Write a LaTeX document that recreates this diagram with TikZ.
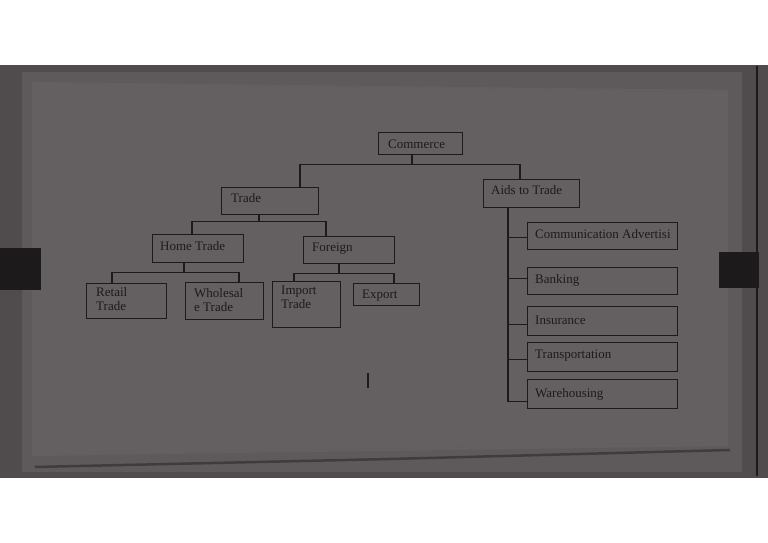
\documentclass[tikz,border=0pt]{standalone}
\usepackage{fontspec}
\setmainfont{Liberation Serif}
\usetikzlibrary{calc}
\definecolor{paper}{HTML}{646062}
\definecolor{outer}{HTML}{504C4E}
\definecolor{band}{HTML}{5E5A5C}
\definecolor{ink}{HTML}{1C1A1B}
\tikzset{
  box/.style={draw=ink, line width=1.3pt, rectangle, inner sep=0pt, anchor=north west},
  lbl/.style={text=ink, inner sep=0pt, anchor=base west, font=\fontsize{13}{14}\selectfont, align=left},
  conn/.style={draw=ink, line width=1.3pt},
}
\begin{document}
\begin{tikzpicture}[x=1pt,y=-1pt]
\useasboundingbox (0,0) rectangle (768,543);
\fill[white] (0,0) rectangle (768,543);
% photo
\fill[outer] (0,65) rectangle (768,478);
\fill[band] (22,72) rectangle (742,472);
\fill[paper] (32,82) -- (728,90) -- (728,446) -- (32,456) -- cycle;
\draw[ink!70, line width=0.8pt] (32,82) -- (728,92) -- (728,442) -- (32,456) -- cycle;
\draw[ink!85, line width=2.5pt] (35,467) -- (390,459) -- (730,450);
\draw[ink, line width=1.6pt] (757,66) -- (757,476);
\fill[ink] (0,248) rectangle (41,290);
\fill[ink] (719,252) rectangle (759,288);
\draw[ink, line width=1.4pt] (368,373) -- (368,388);

% boxes
\node[box, minimum width=84pt, minimum height=22pt] (commerce) at (378,132) {};
\node[box, minimum width=97pt, minimum height=27pt] (trade) at (221,187) {};
\node[box, minimum width=96pt, minimum height=28pt] (aids) at (483,179) {};
\node[box, minimum width=91pt, minimum height=28pt] (home) at (152,234) {};
\node[box, minimum width=91pt, minimum height=27pt] (foreign) at (303,236) {};
\node[box, minimum width=80pt, minimum height=35pt] (retail) at (86,283) {};
\node[box, minimum width=78pt, minimum height=37pt] (whole) at (185,282) {};
\node[box, minimum width=68pt, minimum height=46pt] (import) at (272,281) {};
\node[box, minimum width=66pt, minimum height=22pt] (export) at (353,283) {};
\node[box, minimum width=150pt, minimum height=27pt] (comm) at (527,222) {};
\node[box, minimum width=150pt, minimum height=27pt] (bank) at (527,267) {};
\node[box, minimum width=150pt, minimum height=29pt] (ins) at (527,306) {};
\node[box, minimum width=150pt, minimum height=29pt] (trans) at (527,342) {};
\node[box, minimum width=150pt, minimum height=29pt] (ware) at (527,379) {};

% labels
\node[lbl] (commerceL) at (388,148) {Commerce};
\node[lbl] (tradeL) at (231,202) {Trade};
\node[lbl] (aidsL) at (491,194) {Aids to Trade};
\node[lbl] (homeL) at (160,250) {Home Trade};
\node[lbl] (foreignL) at (312,251) {Foreign};
\node[lbl, anchor=north west] (retailL) at (96,287) {Retail\\Trade};
\node[lbl, anchor=north west] (wholeL) at (194,288) {Wholesal\\e Trade};
\node[lbl, anchor=north west] (importL) at (281,286) {Import\\Trade};
\node[lbl] (exportL) at (362,298) {Export};
\node[lbl] (commL) at (535,238) {Communication Advertisi};
\node[lbl] (bankL) at (535,283) {Banking};
\node[lbl] (insL) at (535,324) {Insurance};
\node[lbl] (transL) at (535,358) {Transportation};
\node[lbl] (wareL) at (535,397) {Warehousing};

% connectors
\draw[conn] ($(commerce.south west)+(34,0)$) -- ++(0,9) coordinate (cbar);
\draw[conn] ($(trade.north west)+(79,0)$) |- (cbar) -| ($(aids.north west)+(37,0)$);

\draw[conn] ($(trade.south west)+(38,0)$) -- ++(0,6) coordinate (tbar);
\draw[conn] ($(home.north west)+(40,0)$) |- (tbar) -| ($(foreign.north west)+(23,0)$);

\draw[conn] ($(home.south west)+(32,0)$) -- ++(0,9) coordinate (hbar);
\draw[conn] ($(retail.north west)+(26,0)$) |- (hbar) -| ($(whole.north west)+(54,0)$);

\draw[conn] ($(foreign.south west)+(36,0)$) -- ++(0,9) coordinate (fbar);
\draw[conn] ($(import.north west)+(22,0)$) |- (fbar) -| ($(export.north west)+(41,0)$);

\coordinate (spine) at ($(aids.south west)+(25,0)$);
\coordinate (s-comm) at ($(comm.west)+(0,1.5)$);
\coordinate (s-bank) at ($(bank.west)+(0,-2.5)$);
\coordinate (s-ins) at ($(ins.west)+(0,3.5)$);
\coordinate (s-trans) at ($(trans.west)+(0,2.5)$);
\coordinate (s-ware) at ($(ware.west)+(0,7.5)$);
\draw[conn] (spine) |- (s-ware);
\foreach \n in {comm,bank,ins,trans}
  \draw[conn] (s-\n) -- (spine |- s-\n);
\end{tikzpicture}
\end{document}
